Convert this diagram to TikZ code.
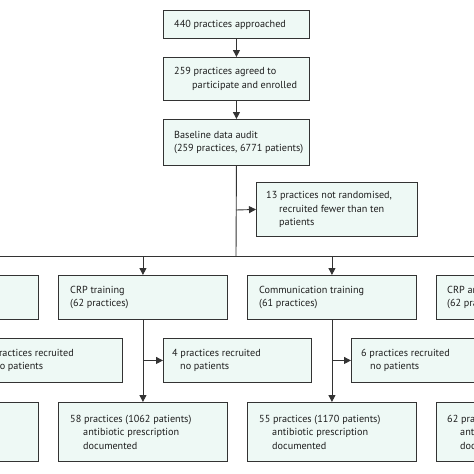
\documentclass[tikz,border=0pt]{standalone}
\usepackage{fontspec}
\setmainfont{PT Sans}
\usetikzlibrary{arrows.meta}
\definecolor{boxfill}{HTML}{EEF9F5}
\definecolor{boxline}{HTML}{333333}
\definecolor{txt}{HTML}{1E1E1E}
\tikzset{
  box/.style={draw=boxline, fill=boxfill, line width=0.9pt, anchor=north west,
    inner sep=0pt},
  lbl/.style={anchor=west, align=left, inner sep=0pt, text=txt,
    font=\fontsize{10.2}{13.5}\selectfont},
  conn/.style={draw=boxline, line width=0.9pt},
  arr/.style={conn, -{Triangle[length=7pt,width=7pt]}}
}
\begin{document}
\begin{tikzpicture}[x=1pt,y=-1pt]
\useasboundingbox (0,0) rectangle (474,474);
\clip (0,0) rectangle (474,474);
% top chain
\node[box, minimum width=146pt, minimum height=28pt] (n1) at (163,10) {};
\node[box, minimum width=146pt, minimum height=43pt] (n2) at (163,57) {};
\node[box, minimum width=146pt, minimum height=46pt] (n3) at (163,119) {};
\node[box, minimum width=161pt, minimum height=54pt] (ex0) at (256,182) {};
\node[lbl] (n1t) at ([xshift=11pt]n1.west) {440 practices approached};
\node[lbl] (n2t) at ([xshift=11pt]n2.west) {259 practices agreed to\\\hspace*{18pt}participate and enrolled};
\node[lbl] (n3t) at ([xshift=11pt]n3.west) {Baseline data audit\\(259 practices, 6771 patients)};
\node[lbl] (ex0t) at ([xshift=10pt]ex0.west) {13 practices not randomised,\\\hspace*{13pt}recruited fewer than ten\\\hspace*{13pt}patients};
\draw[arr] (n1) -- (n2);
\draw[arr] (n2) -- (n3);
\coordinate (j) at (236,256);
\coordinate (jx) at (236,210);
\coordinate (hl) at (-200,256);
\coordinate (hr) at (700,256);
\draw[conn] (n3.south) -- (j);
\draw[arr] (jx) -- (ex0.west);
\draw[conn] (hl) -- (hr);
% arms
\node[box, minimum width=169pt, minimum height=44pt] (a0) at (-131,275) {};
\node[box, minimum width=169pt, minimum height=44pt] (a1) at (58,275) {};
\node[box, minimum width=169pt, minimum height=44pt] (a2) at (247,275) {};
\node[box, minimum width=169pt, minimum height=44pt] (a3) at (436,275) {};
\node[lbl] (a1t) at ([xshift=12pt]a1.west) {CRP training\\(62 practices)};
\node[lbl] (a2t) at ([xshift=12pt]a2.west) {Communication training\\(61 practices)};
\node[lbl] (a3t) at ([xshift=11pt]a3.west) {CRP and communication training\\(62 practices)};
\coordinate (t1) at (a1.north |- j);
\coordinate (t2) at (a2.north |- j);
\draw[arr] (t1) -- (a1.north);
\draw[arr] (t2) -- (a2.north);
% exclusions
\node[box, minimum width=148pt, minimum height=44pt] (e0) at (-26,338) {};
\node[box, minimum width=148pt, minimum height=44pt] (e1) at (163,338) {};
\node[box, minimum width=148pt, minimum height=44pt] (e2) at (351,338) {};
\node[lbl] (e0t) at ([xshift=11pt]e0.west) {5 practices recruited\\\hspace*{9pt}no patients};
\node[lbl] (e1t) at ([xshift=9pt]e1.west) {4 practices recruited\\\hspace*{8pt}no patients};
\node[lbl] (e2t) at ([xshift=10pt]e2.west) {6 practices recruited\\\hspace*{9pt}no patients};
% outcomes
\node[box, minimum width=169pt, minimum height=59pt] (b0) at (-131,402) {};
\node[box, minimum width=169pt, minimum height=59pt] (b1) at (58,402) {};
\node[box, minimum width=169pt, minimum height=59pt] (b2) at (247,402) {};
\node[box, minimum width=169pt, minimum height=59pt] (b3) at (436,402) {};
\node[lbl] (b1t) at ([xshift=12pt]b1.west) {58 practices (1062 patients)\\\hspace*{13pt}antibiotic prescription\\\hspace*{13pt}documented};
\node[lbl] (b2t) at ([xshift=12pt]b2.west) {55 practices (1170 patients)\\\hspace*{13pt}antibiotic prescription\\\hspace*{13pt}documented};
\node[lbl] (b3t) at ([xshift=11pt]b3.west) {62 practices\\\hspace*{13pt}antibiotic prescription\\\hspace*{13pt}documented};
\coordinate (k1) at (a1.south |- e1.west);
\coordinate (k2) at (a2.south |- e2.west);
\draw[arr] (a1.south) -- (b1.north);
\draw[arr] (a2.south) -- (b2.north);
\draw[arr] (k1) -- (e1.west);
\draw[arr] (k2) -- (e2.west);
\end{tikzpicture}
\end{document}
